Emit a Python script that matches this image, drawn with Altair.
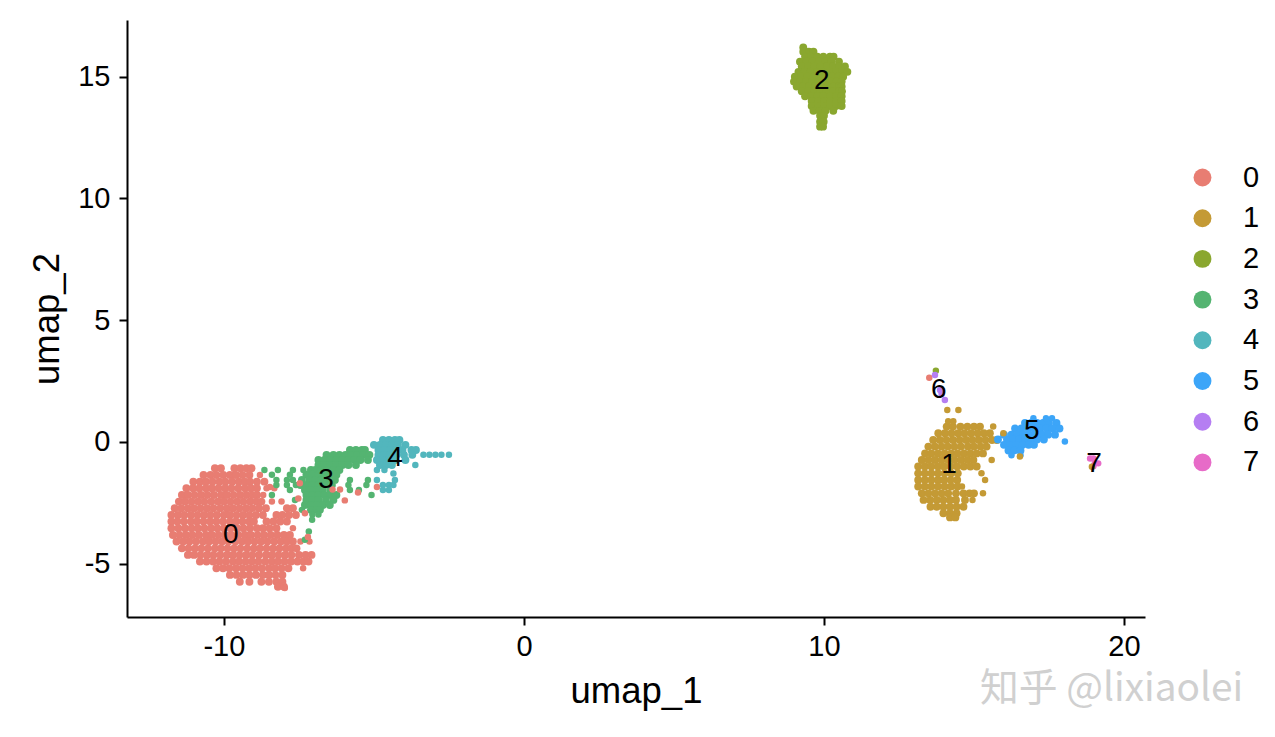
import altair as alt
import pandas as pd

C0 = [
 (-1.08,[-10.3,-10.1,-9.65,-9.45,-9.25,-9.08]),
 (-1.36,[-10.68,-10.45,-10.25,-10.02,-9.8,-9.6,-9.38,-9.15]),
 (-1.63,[-11.02,-10.8,-10.6,-10.38,-10.15,-9.95,-9.72,-9.5,-9.3,-9.13,-8.9,-8.65]),
 (-1.90,[-11.25,-11.03,-10.82,-10.6,-10.4,-10.18,-9.96,-9.75,-9.52,-9.3,-9.1,-8.9]),
 (-2.18,[-11.4,-11.2,-10.98,-10.76,-10.55,-10.33,-10.1,-9.9,-9.68,-9.46,-9.25,-9.05,-8.9]),
 (-2.45,[-11.5,-11.3,-11.08,-10.86,-10.65,-10.42,-10.2,-10.0,-9.78,-9.56,-9.35,-9.13,-8.92,-8.75]),
 (-2.72,[-11.64,-11.42,-11.2,-11.0,-10.78,-10.56,-10.35,-10.12,-9.9,-9.7,-9.48,-9.26,-9.05,-8.83,-8.6,-7.9,-7.7]),
 (-3.00,[-11.75,-11.53,-11.32,-11.1,-10.88,-10.66,-10.45,-10.23,-10.0,-9.8,-9.58,-9.36,-9.15,-8.93,-8.7,-8.25,-8.05,-7.83,-7.6]),
 (-3.27,[-11.75,-11.55,-11.33,-11.1,-10.9,-10.68,-10.46,-10.25,-10.03,-9.8,-9.6,-9.38,-9.16,-9.0,-8.58,-8.35,-8.12,-7.9]),
 (-3.54,[-11.75,-11.52,-11.3,-11.08,-10.87,-10.65,-10.43,-10.22,-10.0,-9.78,-9.56,-9.35,-9.13,-8.9,-8.7,-8.48,-8.25]),
 (-3.82,[-11.7,-11.48,-11.26,-11.05,-10.83,-10.6,-10.4,-10.18,-9.96,-9.75,-9.52,-9.3,-9.1,-8.88,-8.66,-8.44,-8.22,-8.0,-7.8]),
 (-4.09,[-11.58,-11.36,-11.15,-10.93,-10.7,-10.5,-10.28,-10.06,-9.85,-9.62,-9.4,-9.2,-8.98,-8.76,-8.55,-8.32,-8.1,-7.9,-7.7]),
 (-4.37,[-11.4,-11.18,-10.96,-10.75,-10.53,-10.3,-10.1,-9.88,-9.66,-9.45,-9.22,-9.0,-8.8,-8.58,-8.36,-8.15,-7.93,-7.75,-7.58]),
 (-4.64,[-11.2,-11.0,-10.78,-10.56,-10.35,-10.12,-9.9,-9.7,-9.48,-9.26,-9.05,-8.83,-8.6,-8.4,-8.18,-7.96,-7.75,-7.5,-7.28,-7.08]),
 (-4.91,[-10.8,-10.58,-10.36,-10.15,-9.93,-9.7,-9.5,-9.28,-9.06,-8.85,-8.62,-8.4,-8.2,-7.98,-7.76,-7.55,-7.35,-7.18]),
 (-5.19,[-10.25,-10.03,-9.82,-9.6,-9.38,-9.16,-8.95,-8.73,-8.5,-8.3,-8.08,-7.85]),
 (-5.46,[-9.8,-9.58,-9.36,-9.15,-8.93,-8.7,-8.5,-8.28,-8.05]),
 (-5.74,[-9.47,-9.15,-8.75,-8.5,-8.25,-8.05]),
 (-5.95,[-8.2,-8.0]),
]
C1 = [
 (0.63,[14.09,14.3,14.55,14.78,15.0,15.2]),
 (0.36,[13.81,14.03,14.25,14.47,14.68,14.9,15.12,15.33,15.53]),
 (0.08,[13.64,13.86,14.08,14.3,14.52,14.74,14.95,15.16,15.38,15.6,15.76]),
 (-0.19,[13.48,13.7,13.92,14.13,14.35,14.57,14.8,15.0,15.22,15.42]),
 (-0.47,[13.37,13.58,13.8,14.02,14.24,14.45,14.67,14.88,15.09,15.3]),
 (-0.74,[13.26,13.48,13.7,13.92,14.14,14.35,14.57,14.78,14.98]),
 (-1.01,[13.14,13.36,13.58,13.8,14.0,14.22,14.44,14.66,14.88,15.09]),
 (-1.29,[13.14,13.36,13.58,13.8,14.02,14.24,14.46]),
 (-1.56,[13.14,13.36,13.58,13.8,14.0,14.22,14.44]),
 (-1.83,[13.14,13.36,13.58,13.8,14.02,14.24,14.45]),
 (-2.11,[13.26,13.48,13.7,13.92,14.14,14.4,14.65,14.85,15.0]),
 (-2.38,[13.32,13.54,13.76,13.98,14.2,14.4,14.7]),
 (-2.66,[13.55,13.76,13.98,14.2,14.42,14.65]),
 (-2.93,[13.98,14.2,14.42]),
 (-3.1,[14.2,14.38]),
]
C2 = [
 (16.2,[9.31]),
 (16.03,[9.31,9.5,9.65]),
 (15.82,[9.37,9.57,9.78,9.98,10.2,10.32]),
 (15.62,[9.2,9.42,9.62,9.83,10.04,10.25,10.5]),
 (15.42,[9.26,9.47,9.68,9.88,10.1,10.3,10.5,10.7]),
 (15.2,[9.15,9.36,9.56,9.77,9.98,10.2,10.4,10.6,10.78]),
 (15.0,[9.03,9.25,9.45,9.66,9.86,10.07,10.28,10.48,10.64]),
 (14.8,[9.0,9.2,9.4,9.6,9.82,10.02,10.22,10.42,10.59]),
 (14.6,[9.09,9.3,9.5,9.7,9.9,10.12,10.32,10.5,10.59]),
 (14.4,[9.26,9.47,9.67,9.88,10.08,10.3,10.5,10.6]),
 (14.2,[9.37,9.57,9.78,9.98,10.2,10.4,10.59]),
 (14.0,[9.59,9.8,10.0,10.2,10.4,10.59]),
 (13.8,[9.59,9.8,10.0,10.2,10.4,10.59]),
 (13.6,[9.65,9.85,10.05,10.31]),
 (13.4,[9.87,10.0]),
 (13.15,[9.87,9.99]),
 (12.95,[9.87,9.97]),
]
C3 = [
 (-0.33,[-5.8,-5.6,-5.4,-5.3]),
 (-0.53,[-6.58,-6.35,-6.15,-5.95,-5.75,-5.55,-5.35,-5.15]),
 (-0.74,[-6.85,-6.65,-6.45,-6.25,-6.05,-5.85,-5.65,-5.45,-5.2]),
 (-0.95,[-6.85,-6.65,-6.45,-6.25,-6.05,-5.85,-5.6]),
 (-1.15,[-7.1,-6.95,-6.75,-6.55,-6.35,-6.15]),
 (-1.35,[-7.25,-7.05,-6.85,-6.65,-6.45,-6.25]),
 (-1.56,[-7.4,-7.15,-6.95,-6.75,-6.55,-6.3]),
 (-1.77,[-7.45,-7.25,-7.05,-6.85,-6.65,-6.4]),
 (-1.97,[-7.3,-7.1,-6.9,-6.7,-6.45]),
 (-2.18,[-7.25,-7.05,-6.85,-6.65,-6.45,-6.25]),
 (-2.38,[-7.25,-7.05,-6.85,-6.6,-6.35]),
 (-2.59,[-7.3,-7.1,-6.9,-6.7,-6.47]),
 (-2.79,[-7.1,-6.9,-6.8]),
]
C4 = [
 (0.08,[-4.7,-4.5,-4.3,-4.15]),
 (-0.12,[-5.0,-4.8,-4.6,-4.4,-4.2,-3.95]),
 (-0.33,[-4.85,-4.65,-4.45,-4.25,-4.05,-3.75,-3.6]),
 (-0.53,[-4.85,-4.65,-4.45,-4.25,-4.0,-3.72]),
 (-0.74,[-4.9,-4.7,-4.5,-4.3,-3.95]),
 (-0.95,[-4.8,-4.6,-4.4]),
]
C5 = [
 (0.78,[16.7,16.9,17.1,17.3,17.5,17.75]),
 (0.55,[16.37,16.58,16.8,17.0,17.2,17.42,17.62,17.85]),
 (0.3,[16.0,16.25,16.45,16.65,16.85,17.05,17.27,17.47,17.7]),
 (0.1,[15.8,16.1,16.3,16.5,16.7,16.9,17.1,17.33]),
 (-0.12,[16.0,16.2,16.4,16.62,16.82,17.0]),
 (-0.35,[16.15,16.35,16.55]),
]
# scattered single points, drawn last and smaller: (cluster, y, x list)
STRAY = [
 ("0",[(-1.36,[-8.8]),(-1.90,[-8.58,-8.32]),(-2.18,[-8.69]),(-2.45,[-8.4,-8.08]),
       (-3.54,[-7.7]),(-4.09,[-7.45,-7.15]),(-5.19,[-7.36]),(-6.0,[-7.97])]),
 ("3",[(-1.15,[-8.65,-8.2,-7.7,-7.35]),(-1.35,[-8.4,-7.8]),(-1.56,[-8.25,-7.9,-7.7,-5.8,-5.2]),
       (-1.77,[-8.25,-7.9,-7.6,-5.85,-5.25]),(-1.97,[-7.8,-5.8,-5.5]),(-2.18,[-8.4,-5.08]),
       (-2.38,[-7.63]),(-2.79,[-7.4]),(-2.98,[-7.05,-6.85]),(-3.2,[-7.06]),(-3.68,[-7.17]),(-4.02,[-7.3])]),
 ("0",[(-1.7,[-7.47]),(-2.32,[-7.52]),(-1.95,[-6.13,-6.38]),(-2.4,[-5.97]),(-2.08,[-5.53]),(-1.85,[-4.9]),
       (-2.93,[-7.3]),(-1.85,[-8.47]),(-3.9,[-7.2])]),
 ("4",[(-0.53,[-3.35,-3.15,-2.95,-2.75,-2.5]),(-0.95,[-3.62]),(-1.15,[-4.9,-4.65]),(-1.3,[-4.35]),
       (-1.56,[-4.9,-4.3]),(-1.77,[-4.7,-4.5,-4.35]),(-1.97,[-4.7,-4.5])]),
 ("1",[(1.31,[14.11,14.48]),(0.85,[14.14,14.31]),(0.63,[15.64]),(0.36,[15.98]),(-0.74,[15.59]),
       (-1.29,[15.25]),(-1.56,[15.37]),(-1.83,[14.6]),(-2.11,[15.3]),(-2.38,[14.95])]),
 ("5",[(0.97,[16.98,17.4,17.6]),(0.02,[18.03]),(-0.55,[16.25,16.55])]),
 ("1",[(-0.6,[16.53])]),
 ("2",[(2.92,[13.73])]),
 ("0",[(2.64,[13.51])]),
 ("6",[(2.75,[13.7]),(2.13,[13.87]),(1.98,[13.92]),(1.72,[14.03])]),
 ("7",[(-0.68,[18.87,18.98]),(-0.88,[19.03,19.14]),(-1.0,[18.98])]),
 ("1",[(-1.02,[18.93])]),
]
LABELS = ["0","1","2","3","4","5","6","7"]
LABEL_X = [-9.77,14.17,9.93,-6.6,-4.3,16.93,13.83,19.0]
LABEL_Y = [-3.82,-0.94,14.82,-1.56,-0.66,0.45,2.14,-0.9]
COLORS = ["#E87D72","#C49A35","#8AA72F","#54B471","#52B6BD","#3CA5F8","#B57EF2","#E76BC8"]
X_TICKS = [-10,0,10,20]
Y_TICKS = [-5,0,5,10,15]
X_DOMAIN = [-13.23,20.7]
Y_DOMAIN = [-7.19,17.33]

rows = []
for name, tbl in zip(LABELS,[C0,C1,C2,C3,C4,C5]):
    for y, xs_ in tbl:
        rows += [{"cluster":name,"x":x,"y":y} for x in xs_]
df = pd.DataFrame(rows)
rows2 = []
for name, tbl in STRAY:
    for y, xs_ in tbl:
        rows2 += [{"cluster":name,"x":x,"y":y} for x in xs_]
df2 = pd.DataFrame(rows2)
lab = pd.DataFrame({"label":LABELS,"x":LABEL_X,"y":LABEL_Y})
FONT = "Liberation Sans"

xs = alt.Scale(domain=X_DOMAIN,nice=False,zero=False)
ys = alt.Scale(domain=Y_DOMAIN,nice=False,zero=False)
ax = dict(grid=False,domainColor="black",domainWidth=2,tickColor="black",tickWidth=2,tickSize=8,
          labelFont=FONT,labelFontSize=29,labelColor="black",titleFont=FONT,titleFontSize=36.5,
          titleFontWeight="normal",titleColor="black",labelExpr="'' + datum.value")
color = alt.Color("cluster:N",scale=alt.Scale(domain=LABELS,range=COLORS),
        legend=alt.Legend(title=None,orient="none",legendX=1061,legendY=143,symbolSize=320,symbolType="circle",
            symbolStrokeWidth=0,labelFont=FONT,labelFontSize=29,labelColor="black",rowPadding=10.7,labelOffset=26,
            symbolOpacity=1))
pts = alt.Chart(df).mark_circle(size=62,opacity=1).encode(
    x=alt.X("x:Q",scale=xs,axis=alt.Axis(values=X_TICKS,title="umap_1",titlePadding=12,labelPadding=7,**ax)),
    y=alt.Y("y:Q",scale=ys,axis=alt.Axis(values=Y_TICKS,title="umap_2",titlePadding=11,labelPadding=9,**ax)),
    color=color,
)
strays = alt.Chart(df2).mark_circle(size=42,opacity=1).encode(
    x=alt.X("x:Q",scale=xs),y=alt.Y("y:Q",scale=ys),color=color)
txt = alt.Chart(lab).mark_text(font=FONT,fontSize=28,color="black").encode(
    x=alt.X("x:Q",scale=xs),y=alt.Y("y:Q",scale=ys),text="label:N")
wm = alt.Chart(pd.DataFrame({"t":["知乎 @lixiaolei"]})).mark_text(
    font="Noto Sans CJK SC",fontSize=38.8,color="#d0d0d0",align="left",baseline="middle",clip=False).encode(
    x=alt.value(853),y=alt.value(669),text="t:N")
chart = alt.layer(pts,strays,txt,wm).properties(width=1018,height=597,
    padding={"left":119,"top":12,"right":120,"bottom":100},
    autosize=alt.AutoSizeParams(type="none")).configure_view(stroke=None)
chart.save("out.html", embed_options={"renderer": "svg", "actions": False})
